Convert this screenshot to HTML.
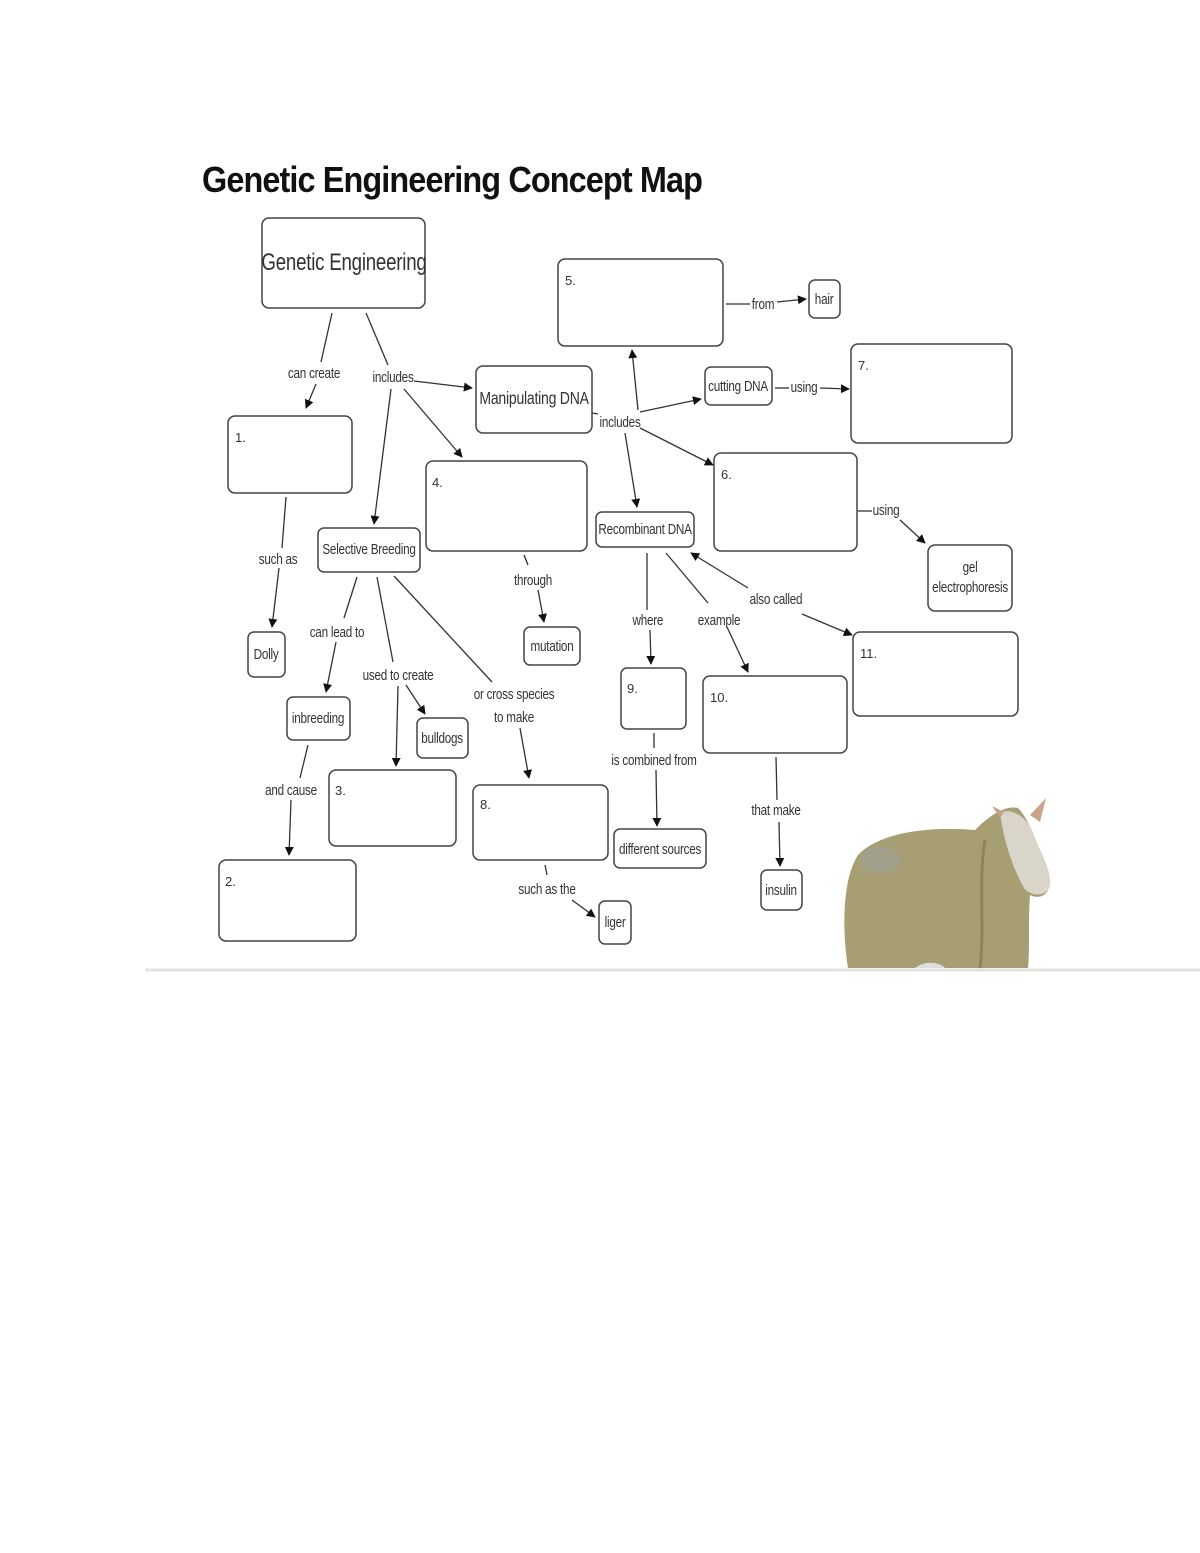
<!DOCTYPE html>
<html><head><meta charset="utf-8"><style>
html,body{margin:0;padding:0;background:#fff}
svg{display:block}
text{font-family:"Liberation Sans",sans-serif;fill:#333}
.t{font-size:15px;letter-spacing:-0.3px;transform-box:fill-box;transform-origin:center;transform:scaleX(0.78)}
.n{font-size:13px}
rect{fill:#fff;stroke:#444;stroke-width:1.5}
line,path{stroke:#333;stroke-width:1.3;fill:none}
.s path,.s ellipse{stroke:none}
</style></head><body>
<svg width="1200" height="1553" viewBox="0 0 1200 1553" xmlns="http://www.w3.org/2000/svg">
<defs><marker id="a" viewBox="0 0 10 10" refX="9" refY="5" markerWidth="9" markerHeight="9" orient="auto-start-reverse" markerUnits="userSpaceOnUse"><path d="M0,0 L10,5 L0,10 z" style="fill:#111;stroke:none"/></marker></defs>
<text x="202" y="192" style="font-family:'Liberation Sans',sans-serif;font-weight:bold;font-size:36px;fill:#111;letter-spacing:-1px" textLength="500" lengthAdjust="spacingAndGlyphs">Genetic Engineering Concept Map</text>

<g>
<line x1="332" y1="313" x2="321" y2="362"/><line x1="316" y1="384" x2="306" y2="408" marker-end="url(#a)"/>
<line x1="366" y1="313" x2="388" y2="365"/>
<line x1="414" y1="381" x2="472" y2="388" marker-end="url(#a)"/>
<line x1="404" y1="389" x2="462" y2="457" marker-end="url(#a)"/>
<line x1="391" y1="389" x2="374" y2="524" marker-end="url(#a)"/>
<line x1="286" y1="497" x2="282" y2="548"/><line x1="279" y1="568" x2="272" y2="627" marker-end="url(#a)"/>
<line x1="357" y1="577" x2="344" y2="618"/><line x1="336" y1="642" x2="326" y2="692" marker-end="url(#a)"/>
<line x1="377" y1="577" x2="393" y2="662"/><line x1="398" y1="686" x2="396" y2="766" marker-end="url(#a)"/>
<line x1="406" y1="685" x2="425" y2="714" marker-end="url(#a)"/>
<line x1="394" y1="576" x2="492" y2="682"/><line x1="520" y1="728" x2="529" y2="778" marker-end="url(#a)"/>
<line x1="308" y1="745" x2="300" y2="778"/><line x1="291" y1="800" x2="289" y2="855" marker-end="url(#a)"/>
<line x1="524" y1="555" x2="528" y2="565"/><line x1="538" y1="590" x2="544" y2="622" marker-end="url(#a)"/>
<line x1="545" y1="865" x2="547" y2="875"/><line x1="572" y1="900" x2="595" y2="917" marker-end="url(#a)"/>
<line x1="592" y1="413" x2="598" y2="414"/>
<line x1="638" y1="410" x2="632" y2="350" marker-end="url(#a)"/>
<line x1="640" y1="412" x2="701" y2="399" marker-end="url(#a)"/>
<line x1="640" y1="428" x2="713" y2="465" marker-end="url(#a)"/>
<line x1="625" y1="433" x2="637" y2="507" marker-end="url(#a)"/>
<line x1="726" y1="304" x2="750" y2="304"/><line x1="777" y1="302" x2="806" y2="299" marker-end="url(#a)"/>
<line x1="775" y1="388" x2="789" y2="388"/><line x1="820" y1="388" x2="849" y2="389" marker-end="url(#a)"/>
<line x1="858" y1="511" x2="872" y2="511"/><line x1="900" y1="520" x2="925" y2="543" marker-end="url(#a)"/>
<line x1="647" y1="553" x2="647" y2="610"/><line x1="650" y1="630" x2="651" y2="664" marker-end="url(#a)"/>
<line x1="666" y1="553" x2="708" y2="603"/><line x1="727" y1="627" x2="748" y2="672" marker-end="url(#a)"/>
<line x1="748" y1="588" x2="691" y2="553" marker-end="url(#a)"/>
<line x1="802" y1="614" x2="852" y2="635" marker-end="url(#a)"/>
<line x1="654" y1="733" x2="654" y2="748"/><line x1="656" y1="770" x2="657" y2="826" marker-end="url(#a)"/>
<line x1="776" y1="757" x2="777" y2="800"/><line x1="779" y1="822" x2="780" y2="866" marker-end="url(#a)"/>
</g>

<rect x="262" y="218" width="163" height="90" rx="7"/>
<text class="t" x="344" y="270" text-anchor="middle" style="font-size:24px">Genetic Engineering</text>
<rect x="558" y="259" width="165" height="87" rx="7"/><text class="n" x="565" y="285">5.</text>
<rect x="809" y="280" width="31" height="38" rx="6"/><text class="t" x="824" y="304" text-anchor="middle">hair</text>
<rect x="476" y="366" width="116" height="67" rx="7"/><text class="t" x="534" y="404" text-anchor="middle" style="font-size:18px">Manipulating DNA</text>
<rect x="705" y="367" width="67" height="38" rx="6"/><text class="t" x="738" y="391" text-anchor="middle">cutting DNA</text>
<rect x="851" y="344" width="161" height="99" rx="7"/><text class="n" x="858" y="370">7.</text>
<rect x="228" y="416" width="124" height="77" rx="7"/><text class="n" x="235" y="442">1.</text>
<rect x="426" y="461" width="161" height="90" rx="7"/><text class="n" x="432" y="487">4.</text>
<rect x="596" y="512" width="98" height="35" rx="6"/><text class="t" x="645" y="534" text-anchor="middle">Recombinant DNA</text>
<rect x="714" y="453" width="143" height="98" rx="7"/><text class="n" x="721" y="479">6.</text>
<rect x="928" y="545" width="84" height="66" rx="7"/><text class="t" x="970" y="572" text-anchor="middle">gel</text><text class="t" x="970" y="592" text-anchor="middle">electrophoresis</text>
<rect x="318" y="528" width="102" height="44" rx="6"/><text class="t" x="369" y="554" text-anchor="middle">Selective Breeding</text>
<rect x="248" y="632" width="37" height="45" rx="6"/><text class="t" x="266" y="659" text-anchor="middle">Dolly</text>
<rect x="524" y="627" width="56" height="38" rx="6"/><text class="t" x="552" y="651" text-anchor="middle">mutation</text>
<rect x="853" y="632" width="165" height="84" rx="7"/><text class="n" x="860" y="658">11.</text>
<rect x="621" y="668" width="65" height="61" rx="6"/><text class="n" x="627" y="693">9.</text>
<rect x="703" y="676" width="144" height="77" rx="7"/><text class="n" x="710" y="702">10.</text>
<rect x="287" y="697" width="63" height="43" rx="6"/><text class="t" x="318" y="723" text-anchor="middle">inbreeding</text>
<rect x="417" y="718" width="51" height="40" rx="6"/><text class="t" x="442" y="743" text-anchor="middle">bulldogs</text>
<rect x="329" y="770" width="127" height="76" rx="7"/><text class="n" x="335" y="795">3.</text>
<rect x="473" y="785" width="135" height="75" rx="7"/><text class="n" x="480" y="809">8.</text>
<rect x="614" y="829" width="92" height="39" rx="6"/><text class="t" x="660" y="854" text-anchor="middle">different sources</text>
<rect x="219" y="860" width="137" height="81" rx="7"/><text class="n" x="225" y="886">2.</text>
<rect x="761" y="870" width="41" height="40" rx="6"/><text class="t" x="781" y="895" text-anchor="middle">insulin</text>
<rect x="599" y="901" width="32" height="43" rx="6"/><text class="t" x="615" y="927" text-anchor="middle">liger</text>

<text class="t" x="314" y="378" text-anchor="middle">can create</text>
<text class="t" x="393" y="382" text-anchor="middle">includes</text>
<text class="t" x="620" y="427" text-anchor="middle">includes</text>
<text class="t" x="763" y="309" text-anchor="middle">from</text>
<text class="t" x="804" y="392" text-anchor="middle">using</text>
<text class="t" x="886" y="515" text-anchor="middle">using</text>
<text class="t" x="278" y="564" text-anchor="middle">such as</text>
<text class="t" x="337" y="637" text-anchor="middle">can lead to</text>
<text class="t" x="398" y="680" text-anchor="middle">used to create</text>
<text class="t" x="514" y="699" text-anchor="middle">or cross species</text>
<text class="t" x="514" y="722" text-anchor="middle">to make</text>
<text class="t" x="291" y="795" text-anchor="middle">and cause</text>
<text class="t" x="533" y="585" text-anchor="middle">through</text>
<text class="t" x="547" y="894" text-anchor="middle">such as the</text>
<text class="t" x="648" y="625" text-anchor="middle">where</text>
<text class="t" x="719" y="625" text-anchor="middle">example</text>
<text class="t" x="776" y="604" text-anchor="middle">also called</text>
<text class="t" x="654" y="765" text-anchor="middle">is combined from</text>
<text class="t" x="776" y="815" text-anchor="middle">that make</text>

<g class="s">
<path d="M848,968 C842,930 842,880 858,855 C880,832 930,826 975,830 C990,815 1005,805 1018,808 C1030,820 1040,850 1050,880 C1050,895 1040,900 1030,895 C1028,920 1030,950 1028,968 Z" style="fill:#a89e74"/>
<path d="M1000,812 C1018,808 1030,822 1035,838 C1042,855 1052,872 1050,886 C1046,898 1030,896 1024,888 C1015,872 1004,845 1000,812 Z" style="fill:#d9d5c8"/>
<path d="M1030,815 L1046,798 L1040,822 Z" style="fill:#c9a48a"/>
<path d="M1000,818 L992,806 L1004,812 Z" style="fill:#c9a48a"/>
<ellipse cx="880" cy="860" rx="20" ry="14" style="fill:#9aa2a0;opacity:.5"/>
<path d="M985,840 C978,880 985,930 980,968" style="stroke:#7d7150;stroke-width:3;fill:none;opacity:.6"/>
<path d="M915,968 C925,960 940,962 945,968 Z" style="fill:#ddd"/>
</g>
<line x1="145" y1="970" x2="1200" y2="970" style="stroke:#e2e2e2;stroke-width:3"/>
</svg>
</body></html>
